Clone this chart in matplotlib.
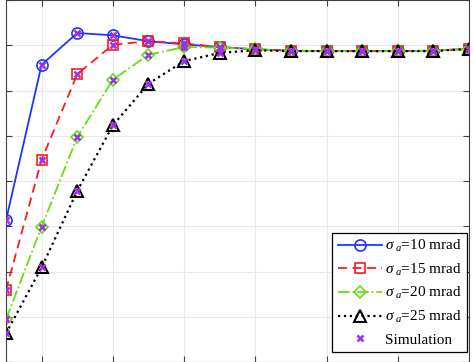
import numpy as np
import matplotlib.pyplot as plt

plt.rcParams['font.family'] = 'Liberation Serif'
plt.rcParams['mathtext.fontset'] = 'custom'
plt.rcParams['mathtext.rm'] = 'Liberation Serif'
plt.rcParams['mathtext.it'] = 'Liberation Serif:italic'

x = np.arange(1, 15)

# curves for each pointing error
y10 = [3.13, 6.57, 7.27, 7.22, 7.09, 7.02, 6.96, 6.91, 6.88, 6.87, 6.87, 6.87, 6.88, 6.92]
y15 = [1.59, 4.47, 6.36, 7.01, 7.09, 7.04, 6.96, 6.91, 6.88, 6.87, 6.87, 6.87, 6.88, 6.92]
y20 = [0.94, 2.99, 4.97, 6.24, 6.79, 6.96, 6.95, 6.91, 6.88, 6.87, 6.87, 6.87, 6.88, 6.92]
y25 = [0.63, 2.09, 3.78, 5.23, 6.15, 6.65, 6.83, 6.89, 6.87, 6.87, 6.87, 6.87, 6.87, 6.92]

labels = [r'$\sigma_{\ a}$=10 mrad', r'$\sigma_{\ a}$=15 mrad',
          r'$\sigma_{\ a}$=20 mrad', r'$\sigma_{\ a}$=25 mrad']

fig = plt.figure(figsize=(4.74, 3.62), dpi=100)
ax = fig.add_axes([6 / 474, 0, 463 / 474, 1])

ax.plot(x, y10, '-', color='#1f35ff', lw=1.3, marker='o', ms=8, mfc='none', mew=1.2, label=labels[0])
ax.plot(x, y15, '--', color='#ff1a1a', lw=1.3, marker='s', ms=7, mfc='none', mew=1.2, label=labels[1],
        dashes=(5, 3))
ax.plot(x, y20, '-.', color='#66dd11', lw=1.3, marker='D', ms=6, mfc='none', mew=1.2, label=labels[2])
ax.plot(x, y25, ':', color='black', lw=1.6, marker='^', ms=8, mfc='none', mew=1.5, label=labels[3])

# simulation points on top of each curve
first = True
for yy in [y10, y15, y20, y25]:
    ax.plot(x, yy, 'x', color='#a030e8', ms=5, mew=1.8, linestyle='none',
            label='Simulation' if first else None, zorder=5)
    first = False

ax.set_xlim(1, 14)
ax.set_ylim(0, 8)
ax.set_xticks(np.arange(2, 14, 2))
ax.set_yticks(np.arange(0, 9, 1))
ax.set_xticklabels([])
ax.set_yticklabels([])
ax.tick_params(direction='in', length=4, top=True, right=True, color='#404040')
ax.grid(True, color='#e8e8e8', lw=0.8)
for s in ax.spines.values():
    s.set_color('#404040')

leg = ax.legend(loc='lower right', fontsize=11, fancybox=False, edgecolor='black',
                handlelength=2.9, handletextpad=0.2, labelspacing=0.5, borderpad=0.35,
                borderaxespad=0, bbox_to_anchor=(0.9957, 0.028), framealpha=1)
leg.get_frame().set_linewidth(0.9)

fig.savefig('out.png', dpi=100)
